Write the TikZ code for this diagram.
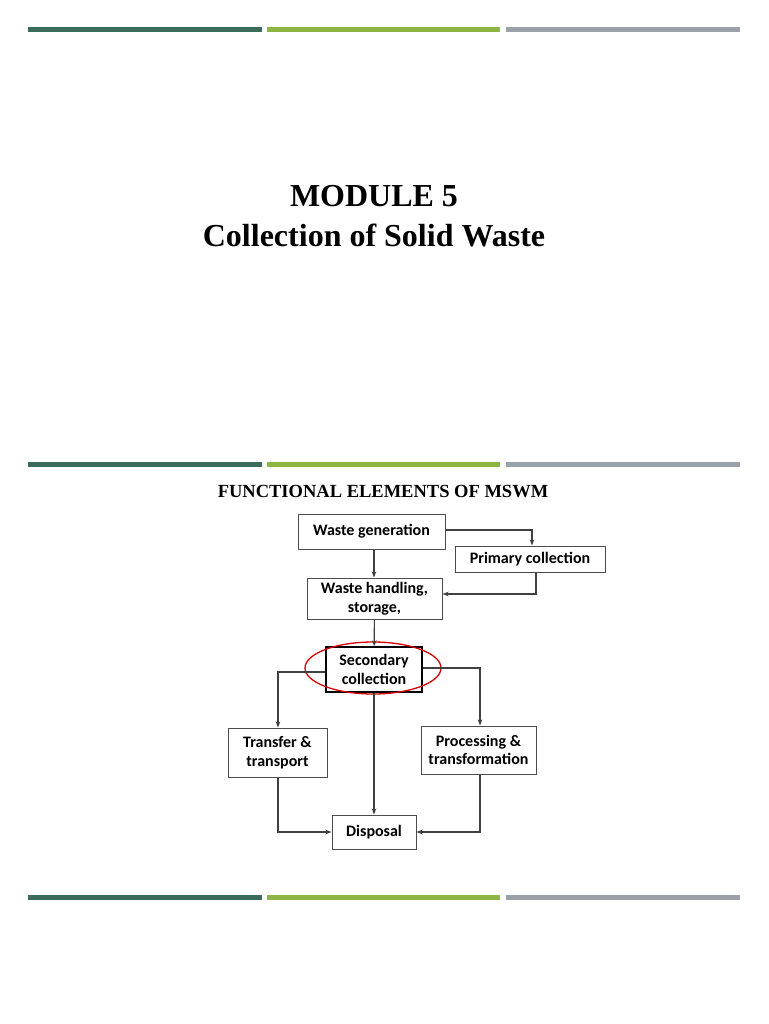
\documentclass[tikz,border=0pt]{standalone}
\usepackage{fontspec}
\setmainfont{Liberation Serif}
\newfontfamily\boxfont{Carlito}
\usetikzlibrary{arrows.meta}
\definecolor{dkg}{HTML}{3B6B5B}
\definecolor{ltg}{HTML}{8DB543}
\definecolor{gry}{HTML}{9BA1A8}
\begin{document}
\begin{tikzpicture}[x=1pt,y=-1pt,
  fbox/.style={draw=black!70,line width=1pt,font=\boxfont\bfseries\fontsize{16}{18.5}\selectfont,align=center,inner sep=0pt},
  conn/.style={draw=black!75,line width=1.1pt,-{Stealth[length=6pt,width=4.5pt]}}]
\useasboundingbox (0,0) rectangle (768,1024);
\fill[white] (0,0) rectangle (768,1024);
\foreach \y in {30,464,897}{
  \fill[dkg] (28,\y-2.5) rectangle (262,\y+2.5);
  \fill[ltg] (267,\y-2.5) rectangle (500,\y+2.5);
  \fill[gry] (506,\y-2.5) rectangle (740,\y+2.5);
}
\node[font=\bfseries\fontsize{32}{40}\selectfont,align=center] (title) at (374,216) {MODULE 5\\Collection of Solid Waste};
\node[font=\bfseries\fontsize{18.5}{22}\selectfont] (sub) at (383,492) {FUNCTIONAL ELEMENTS OF MSWM};
\node[fbox,minimum width=147,minimum height=35] (wg) at (371.5,531.5) {Waste generation};
\node[fbox,minimum width=150,minimum height=26] (pc) at (530,559) {Primary collection};
\node[fbox,minimum width=135,minimum height=41] (wh) at (374.5,598.5) {Waste handling,\\storage,};
\node[fbox,draw=black,line width=1.4pt,minimum width=96,minimum height=45] (sc) at (374,669.5) {Secondary\\collection};
\node[fbox,minimum width=99,minimum height=49] (tt) at (277.5,752.5) {Transfer \&\\transport};
\node[fbox,minimum width=115,minimum height=48] (pt) at (478.5,750) {Processing \&\\transformation};
\node[fbox,minimum width=84,minimum height=34] (dp) at (374,832) {Disposal};
\draw[red!85!black,line width=1.3pt] (373,668) ellipse [x radius=68,y radius=26];
\coordinate (c1) at (532,530);
\draw[conn] (wg.east |- 0,530) -- (c1) -- (pc.north -| c1);
\coordinate (v) at (374,0);
\draw[conn] (wg.south -| v) -- (wh.north -| v);
\coordinate (c2) at (536,594);
\draw[conn] (pc.south -| c2) -- (c2) -- (wh.east |- c2);
\draw[conn] (wh) -- (sc);
\coordinate (c3) at (278,672);
\draw[conn] (sc.west |- c3) -- (c3) -- (tt.north -| c3);
\coordinate (c4) at (480,668);
\draw[conn] (sc.east |- c4) -- (c4) -- (pt.north -| c4);
\draw[conn] (sc) -- (dp);
\coordinate (c5) at (278,832);
\draw[conn] (tt.south -| c5) -- (c5) -- (dp.west);
\coordinate (c6) at (480,832);
\draw[conn] (pt.south -| c6) -- (c6) -- (dp.east);
\end{tikzpicture}
\end{document}
